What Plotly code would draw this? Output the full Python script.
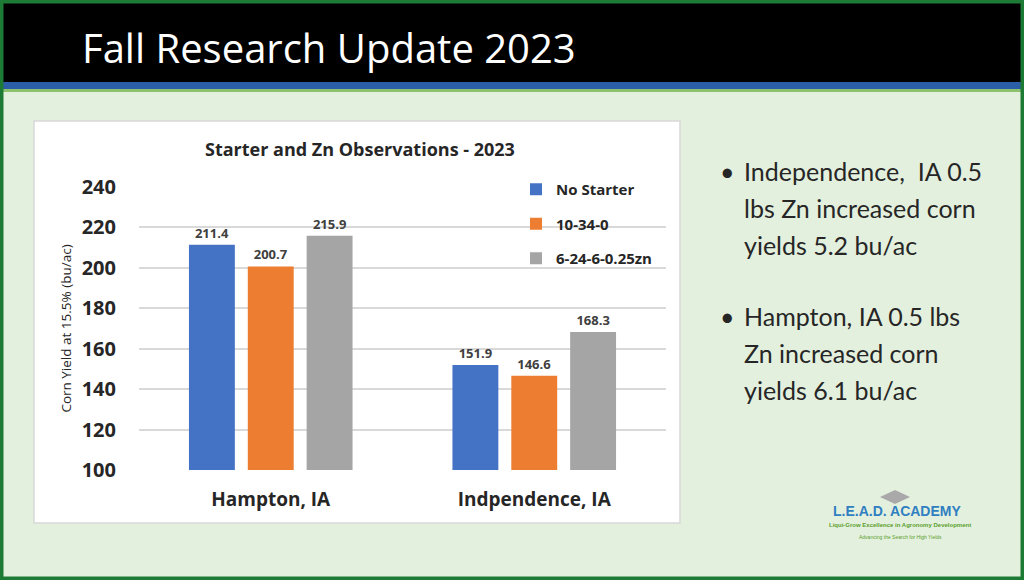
import plotly.graph_objects as go

W, H = 1024, 580

categories = ["Hampton, IA", "Indpendence, IA"]
series_names = ["No Starter", "10-34-0", "6-24-6-0.25zn"]
no_starter = [211.4, 151.9]
ten_34_0 = [200.7, 146.6]
zn_blend = [215.9, 168.3]
series_values = [no_starter, ten_34_0, zn_blend]
series_colors = ["#4472C4", "#ED7D31", "#A5A5A5"]
y_ticks = [100, 120, 140, 160, 180, 200, 220, 240]

slide_title = "Fall Research Update 2023"
chart_title = "Starter and Zn Observations - 2023"
y_title = "Corn Yield at 15.5% (bu/ac)"
bullet1 = ["Independence,  IA 0.5", "lbs Zn increased corn", "yields 5.2 bu/ac"]
bullet2 = ["Hampton, IA 0.5 lbs", "Zn increased corn", "yields 6.1 bu/ac"]


def px(x):
    return x / W


def py(y):
    return 1 - y / H


fig = go.Figure()
for i, (name, vals, col) in enumerate(zip(series_names, series_values, series_colors)):
    fig.add_trace(go.Bar(
        x=categories, y=vals, name=name, marker_color=col,
        legendgroup=f"g{i}",
        text=[f"{v:.1f}" for v in vals], textposition="outside",
        texttemplate="%{text}",
        textfont=dict(family="Open Sans", size=13, color="#404040", weight="bold"),
        cliponaxis=False,
    ))

shapes = [
    # header
    dict(type="rect", xref="paper", yref="paper", x0=0, x1=1, y0=py(82), y1=1,
         fillcolor="#000000", line_width=0, layer="below"),
    dict(type="rect", xref="paper", yref="paper", x0=0, x1=1, y0=py(89), y1=py(82),
         fillcolor="#2a5fa8", line_width=0, layer="below"),
    dict(type="rect", xref="paper", yref="paper", x0=0, x1=1, y0=py(92), y1=py(89),
         fillcolor="#8cc26e", line_width=0, layer="below"),
    # chart panel
    dict(type="rect", xref="paper", yref="paper", x0=px(34), x1=px(680), y0=py(523), y1=py(121),
         fillcolor="#ffffff", line=dict(color="#d8d8d8", width=1.5), layer="below"),
    # logo cap
    dict(type="path", xref="paper", yref="paper",
         path=f"M {px(880)} {py(497)} L {px(895)} {py(490)} L {px(910)} {py(497)} L {px(895)} {py(504)} Z",
         fillcolor="#a9a9a9", line_width=0, layer="above"),
    # outer border
    dict(type="rect", xref="paper", yref="paper", x0=0, x1=1, y0=0, y1=1,
         fillcolor="rgba(0,0,0,0)", line=dict(color="#1e7b36", width=7), layer="above"),
]

annotations = [
    dict(text=slide_title, xref="paper", yref="paper", x=px(80), y=py(47),
         xanchor="left", yanchor="middle", showarrow=False,
         font=dict(family="Open Sans", size=40, color="#ffffff")),
    dict(text=chart_title, xref="paper", yref="paper", x=px(360), y=py(149),
         xanchor="center", yanchor="middle", showarrow=False,
         font=dict(family="Open Sans", size=18, color="#262626", weight="bold")),
    dict(text="L.E.A.D. ACADEMY", xref="paper", yref="paper", x=px(897), y=py(511),
         xanchor="center", yanchor="middle", showarrow=False,
         font=dict(family="Liberation Sans", size=14, color="#2f7fc1", weight="bold")),
    dict(text="Liqui-Grow Excellence in Agronomy Development", xref="paper", yref="paper",
         x=px(900), y=py(525), xanchor="center", yanchor="middle", showarrow=False,
         font=dict(family="Liberation Sans", size=6, color="#5aa02c", weight="bold")),
    dict(text="Advancing the Search for High Yields", xref="paper", yref="paper",
         x=px(900), y=py(537), xanchor="center", yanchor="middle", showarrow=False,
         font=dict(family="Liberation Sans", size=5, color="#5aa02c")),
]

bullet_font = dict(family="Lato", size=25, color="#262626")
for lines, y0 in ((bullet1, 171), (bullet2, 316)):
    annotations.append(dict(text="•", xref="paper", yref="paper", x=px(727), y=py(y0),
                            xanchor="center", yanchor="middle", showarrow=False,
                            font=bullet_font))
    for k, line in enumerate(lines):
        annotations.append(dict(text=line, xref="paper", yref="paper", x=px(742),
                                y=py(y0 + k * 37), xanchor="left", yanchor="middle",
                                showarrow=False, font=bullet_font))

fig.update_layout(
    template="none",
    width=W, height=H,
    margin=dict(l=0, r=0, t=0, b=0, pad=0, autoexpand=False),
    paper_bgcolor="#e4f0de",
    plot_bgcolor="#ffffff",
    barmode="group", bargap=0.33, bargroupgap=0.22,
    shapes=shapes, annotations=annotations,
    showlegend=True,
    legend=dict(x=px(516), y=py(173), xanchor="left", yanchor="top",
                bgcolor="rgba(0,0,0,0)", tracegroupgap=12, itemwidth=30,
                font=dict(family="Open Sans", size=15, color="#262626", weight="bold")),
    xaxis=dict(domain=[px(139), px(666)], showgrid=False, showline=False, ticks="",
               automargin=False, zeroline=False,
               tickfont=dict(family="Open Sans", size=19, color="#262626", weight="bold"),
               ticklabelstandoff=16),
    yaxis=dict(domain=[py(470), py(187)], range=[100, 240], tickvals=y_ticks,
               showgrid=True, gridcolor="#d9d9d9", gridwidth=1.5, zeroline=False,
               showline=False, ticks="", automargin=False,
               tickfont=dict(family="Open Sans", size=20, color="#262626", weight="bold"),
               ticklabelstandoff=22,
               title=dict(text=y_title, standoff=6,
                          font=dict(family="Open Sans", size=13.5, color="#262626"))),
)

fig.write_html("out.html", config={"displayModeBar": False})

# pin the figure to the window origin
with open("out.html", "r", encoding="utf-8") as f:
    html = f.read()
css = ("<style>html,body{margin:0;padding:0;overflow:hidden;width:1024px;height:580px}"
       ".plotly-graph-div{position:absolute!important;top:0!important;left:0!important}</style>")
html = html.replace("<head>", "<head>" + css, 1)
with open("out.html", "w", encoding="utf-8") as f:
    f.write(html)
